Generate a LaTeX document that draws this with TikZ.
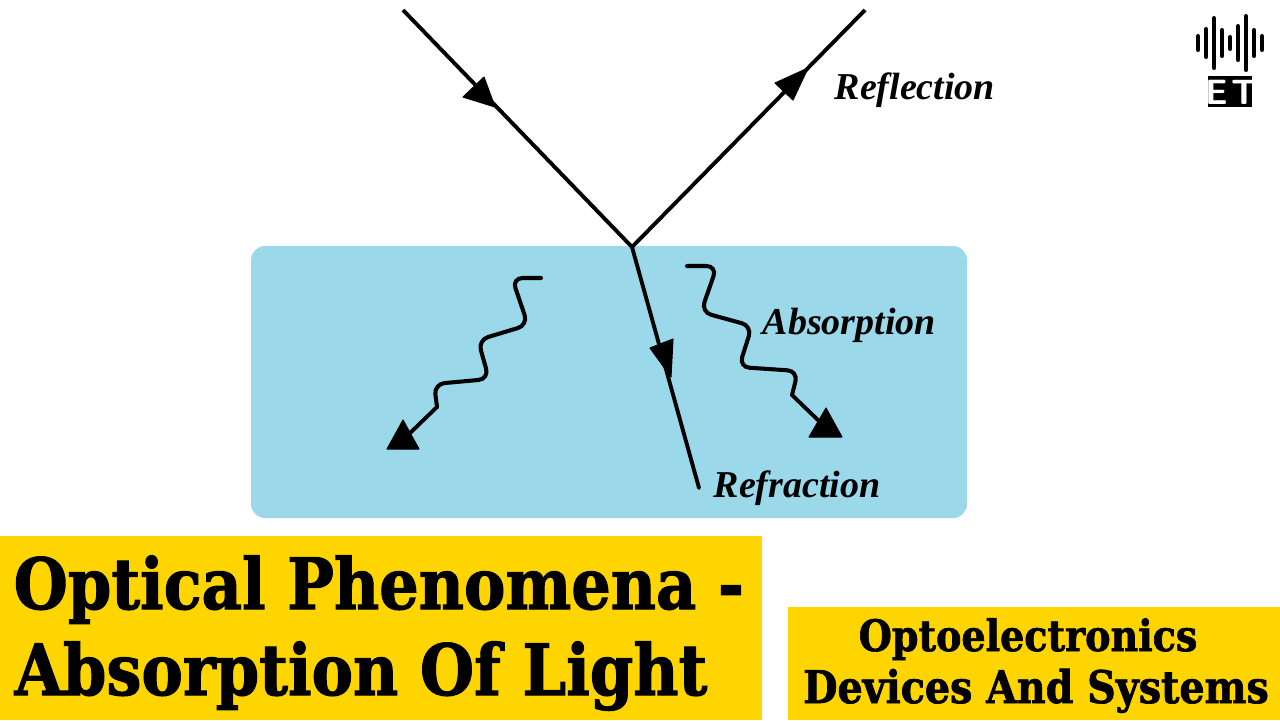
\documentclass[tikz,border=0pt]{standalone}
\usepackage{fontspec}
\usepackage{xcolor}
\setmainfont{Liberation Serif}
\newfontfamily\slabfont{DejaVu Serif}[FakeStretch=0.88,BoldFeatures={FakeBold=1.5}]

\begin{document}
\begin{tikzpicture}[x=0.01cm,y=-0.01cm]
	\definecolor{watercolor}{HTML}{9AD8EA}
	\definecolor{bannercolor}{HTML}{FFD500}
	\tikzset{ray/.style={line width=1.1pt,black},
		wavy/.style={line width=1.15pt,black,rounded corners=3pt,line cap=round},
		tiphead/.style={fill=black,draw=black,line width=0.3pt,line join=round},
		phenomenon/.style={font=\fontsize{10.8}{12}\bfseries\itshape,anchor=base west,inner sep=0pt},
		bigtitle/.style={font=\slabfont\fontsize{20.1}{24}\bfseries,anchor=base west,inner sep=0pt},
		subtitle/.style={font=\slabfont\fontsize{12.8}{16}\bfseries,anchor=base,inner sep=0pt},
		logoletter/.style={font=\sffamily\bfseries\fontsize{7.6}{10},text=white,inner sep=0pt},
		bars/.style={line width=1.15pt,line cap=round}}

	\useasboundingbox (0,0) rectangle (1280,720);
	\fill[white] (0,0) rectangle (1280,720);

	% water block
	\fill[watercolor,rounded corners=4pt] (251,246) rectangle (967,518);

	% rays
	\coordinate (apex) at (632,247);
	\coordinate (incoming) at (403,10);
	\coordinate (reflected) at (865,10);
	\coordinate (refracted) at (699,488);
	\draw[ray] (incoming) -- (apex) -- (reflected);
	\draw[ray,line cap=round] (apex) -- (refracted);
	\filldraw[tiphead] (463,97) -- (484,77) -- (495,107) -- cycle;
	\filldraw[tiphead] (775,83) -- (808,68) -- (793,100) -- cycle;
	\filldraw[tiphead] (650,348) -- (673,339) -- (671,377) -- cycle;

	% absorbed light
	\coordinate (waveA) at (541,278);
	\coordinate (waveB) at (687,266);
	\coordinate (kinkA) at (437,407);
	\coordinate (kinkB) at (792,395);
	\coordinate (endA) at (410,433);
	\coordinate (endB) at (820,422);
	\draw[wavy] (waveA) -- (512,278) -- (528,325) -- (478,340) -- (489,379)
		-- (434,384) -- (kinkA);
	\draw[ray,line cap=round] (kinkA) -- (endA);
	\filldraw[tiphead] (387,449) -- (403,420) -- (419,449) -- cycle;
	\draw[wavy] (waveB) -- (717,266) -- (701,312) -- (752,326) -- (739,367)
		-- (798,371) -- (kinkB);
	\draw[ray,line cap=round] (kinkB) -- (endB);
	\filldraw[tiphead] (809,437) -- (826,408) -- (842,437) -- cycle;

	\node[phenomenon] (reflection) at (834,99) {Reflection};
	\node[phenomenon] (absorption) at (762,334) {Absorption};
	\node[phenomenon] (refraction) at (713,497) {Refraction};

	% logo
	\foreach \xx/\hh in {1198/7,1206/14,1214/25,1222/13,1230/6,1238/17,1246/27,1254/13,1262/7}
		\draw[bars] (\xx,43-\hh) -- (\xx,43+\hh);
	\fill[black] (1208,76) rectangle (1252,107);
	\node[logoletter] (logoE) at (1217,92) {E};
	\node[logoletter] (logoT) at (1244,92) {T};

	% banners
	\fill[bannercolor] (0,536) rectangle (762,720);
	\fill[bannercolor] (788,607) rectangle (1280,720);
	\node[bigtitle] (titleA) at (13,609) {Optical Phenomena -};
	\node[bigtitle] (titleB) at (14,695) {Absorption Of Light};
	\node[subtitle,font=\slabfont\fontsize{12.3}{16}\bfseries] (subA) at (1028,651) {Optoelectronics};
	\node[subtitle] (subB) at (1036,703) {Devices And Systems};
\end{tikzpicture}
\end{document}
